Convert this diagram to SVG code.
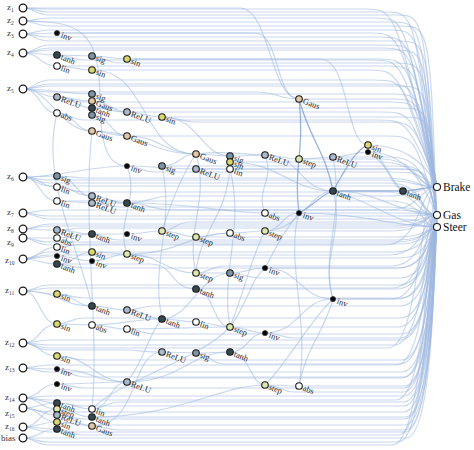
<svg xmlns="http://www.w3.org/2000/svg" width="474" height="450" viewBox="0 0 474 450">
<style>
.e path{fill:none;stroke:#9fb8e0;stroke-width:1.2;stroke-opacity:.55}
.e path.E{stroke:#6f93cc;stroke-width:1.3;stroke-opacity:.7}
circle{stroke:#1a1a1a;stroke-width:1.1}
.in circle{stroke-width:1.3;fill:#fff}
.w{fill:#fff}.tanh{fill:#37474f}.sig{fill:#7b93a3}.relu{fill:#aab9cb}.sin{fill:#d9d86e}.step{fill:#dde7ae}.gaus{fill:#e3c8a6}.inv{fill:#000}
.lb{font-family:"Liberation Serif",serif;font-size:8.5px;fill:#222}
.il{font-family:"Liberation Serif",serif;font-size:9px;fill:#333}
.sb{font-size:5.5px}
.ol{font-family:"Liberation Serif",serif;font-size:11.5px;fill:#111}
</style>
<rect width="474" height="450" fill="#fff"/>
<g id="edges" class="e">
<path d="M23 8 C35 8 35 9 50 9 H365 C395 9 395 9 437 187"/>
<path d="M23 8 C35 8 35 12 50 12 H385 C415 12 415 12 437 215"/>
<path d="M23 8 C35 8 35 15 50 15 H395 C425 15 425 15 437 227"/>
<path d="M23 8 H240 C270 8 270 99 299 99"/>
<path d="M23 21 C35 21 35 18 50 18 H375 C405 18 405 18 437 187"/>
<path d="M23 21 C35 21 35 22 50 22 H392 C422 22 422 22 437 215"/>
<path d="M23 21 C35 21 35 26 50 26 H400 C430 26 430 26 437 227"/>
<path d="M23 21 C80 21 100 30 100 100 C100 150 110 166 127 166"/>
<path d="M23 34 C40 34 40 33 57 33"/>
<path d="M23 34 C35 34 35 37 50 37 H380 C410 37 410 37 437 187"/>
<path d="M23 34 C35 34 35 41 50 41 H398 C428 41 428 41 437 227"/>
<path d="M23 34 C35 34 35 30 50 30 H390 C420 30 420 30 437 215"/>
<path d="M57 33 H370 C400 33 400 33 437 187"/>
<path d="M57 33 H255 C280 33 275 99 299 99"/>
<path d="M23 53 C40 53 40 55 57 55"/>
<path d="M23 53 C40 53 40 66 57 66"/>
<path d="M23 53 C35 53 35 48 50 48 H382 C412 48 412 48 437 187"/>
<path d="M23 53 C35 53 35 50 50 50 H396 C426 50 426 50 437 227"/>
<path d="M23 53 C35 53 35 45 50 45 H388 C418 45 418 45 437 215"/>
<path d="M57 55 C75 55 75 56 92 56"/>
<path d="M57 55 C70 55 70 60 85 60 H372 C402 60 402 60 437 187"/>
<path d="M57 66 C75 66 75 70 92 70"/>
<path d="M57 66 H388 C418 66 418 66 437 215"/>
<path d="M92 56 C110 56 110 59 127 59"/>
<path d="M92 56 C105 56 105 63 120 63 H396 C426 63 426 63 437 227"/>
<path d="M92 70 H368 C398 70 398 70 437 187"/>
<path d="M92 70 C150 70 140 154 196 154"/>
<path d="M127 59 H378 C408 59 408 59 437 187"/>
<path d="M127 59 H320 C350 59 345 145 368 145"/>
<path d="M23 89 C40 89 40 97 57 97"/>
<path d="M23 89 C40 89 40 113 57 113"/>
<path d="M23 89 C55 89 60 94 92 94"/>
<path d="M23 89 C50 89 60 131 92 131"/>
<path d="M23 89 C35 89 35 80 50 80 H374 C404 80 404 80 437 187"/>
<path d="M23 89 C35 89 35 84 50 84 H386 C416 84 416 84 437 215"/>
<path d="M23 89 C35 89 35 86 50 86 H398 C428 86 428 86 437 227"/>
<path d="M23 89 C35 89 35 92 50 92 H255 C280 92 275 99 299 99"/>
<path d="M57 97 C75 97 75 108 92 108"/>
<path d="M57 97 C70 97 70 102 85 102 H390 C420 102 420 102 437 215"/>
<path d="M57 97 C75 97 75 101 92 101"/>
<path d="M57 113 C75 113 75 131 92 131"/>
<path d="M57 113 C70 113 70 120 85 120 H376 C406 120 406 120 437 187"/>
<path d="M92 94 H392 C422 94 422 94 437 215"/>
<path d="M92 101 C110 101 110 112 127 112"/>
<path d="M92 108 C110 108 110 112 127 112"/>
<path d="M92 108 H400 C430 108 430 108 437 227"/>
<path d="M92 115 C110 115 110 136 127 136"/>
<path d="M92 131 C110 131 110 136 127 136"/>
<path d="M92 131 C140 131 150 154 196 154"/>
<path d="M92 131 C82 220 100 330 92 409"/>
<path d="M127 112 C145 112 145 117 162 117"/>
<path d="M127 112 H380 C410 112 410 112 437 187"/>
<path d="M127 136 H385 C415 136 415 136 437 215"/>
<path d="M127 136 C160 136 165 154 196 154"/>
<path d="M162 117 C180 117 180 122 195 122 H384 C414 122 414 122 437 187"/>
<path d="M162 117 H402 C432 117 432 117 437 227"/>
<path d="M162 117 C200 117 200 156 230 156"/>
<path d="M127 166 C140 166 140 172 155 172 H390 C415 172 415 172 437 187"/>
<path d="M127 166 C160 166 165 169 196 169"/>
<path d="M127 166 C140 200 115 220 127 254"/>
<path d="M162 166 C180 166 180 154 196 154"/>
<path d="M162 166 H392 C422 166 422 166 437 215"/>
<path d="M162 166 C175 230 150 260 162 319"/>
<path d="M196 154 C213 154 213 156 230 156"/>
<path d="M196 154 C230 150 240 155 265 155"/>
<path d="M196 154 C210 200 185 230 196 273"/>
<path d="M196 169 H230"/>
<path d="M196 169 H395 C425 169 425 169 437 215"/>
<path d="M230 156 C248 156 248 155 265 155"/>
<path d="M230 162 H380 C420 162 415 187 437 187"/>
<path d="M230 162 C280 162 290 191 333 191"/>
<path d="M230 169 C245 230 220 270 230 327"/>
<path d="M230 169 C225 220 200 230 196 273"/>
<path d="M230 169 H398 C428 169 428 169 437 227"/>
<path d="M265 155 C282 155 282 159 299 159"/>
<path d="M265 155 C300 155 300 191 333 191"/>
<path d="M265 155 C275 180 255 190 265 213"/>
<path class="E" d="M299 99 C310 140 325 150 333 191"/>
<path class="E" d="M299 99 C305 150 293 170 299 213"/>
<path d="M299 99 H390 C420 99 420 99 437 187"/>
<path d="M299 159 H380 C420 159 415 187 437 187"/>
<path d="M299 159 C316 159 316 157 333 157"/>
<path d="M333 157 H390 C425 157 420 187 437 187"/>
<path d="M333 157 C345 220 320 250 333 299"/>
<path d="M333 157 C350 157 350 152 368 152"/>
<path d="M368 145 C400 145 425 160 437 187"/>
<path d="M368 145 C385 160 390 180 403 191"/>
<path d="M368 152 C390 165 390 185 403 191"/>
<path d="M368 152 C410 152 425 190 437 215"/>
<path class="E" d="M333 191 C360 191 375 191 403 191"/>
<path class="E" d="M333 191 C345 170 355 150 368 145"/>
<path d="M333 191 C380 191 400 215 437 215"/>
<path d="M333 191 C370 200 400 227 437 227"/>
<path class="E" d="M403 191 C415 191 425 187 437 187"/>
<path d="M403 191 C420 195 425 215 437 215"/>
<path class="E" d="M299 213 C315 205 320 195 333 191"/>
<path d="M299 213 H400 C425 213 425 215 437 215"/>
<path d="M299 213 C360 213 400 227 437 227"/>
<path d="M265 213 H299"/>
<path d="M23 177 C40 177 40 176 57 176"/>
<path d="M23 177 C40 177 40 187 57 187"/>
<path d="M23 177 C40 177 40 201 57 201"/>
<path d="M23 177 C35 177 35 180 50 180 H380 C415 180 415 187 437 187"/>
<path d="M23 177 C35 177 35 183 50 183 H390 C425 183 420 215 437 215"/>
<path d="M23 177 C35 177 35 186 50 186 H395 C428 186 425 227 437 227"/>
<path d="M23 177 C60 177 90 166 127 166"/>
<path d="M57 176 C70 176 70 178 85 178 H385 C418 178 415 187 437 187"/>
<path d="M57 176 C75 176 75 196 92 196"/>
<path d="M57 187 C75 187 75 196 92 196"/>
<path d="M57 187 C70 187 70 192 85 192 H385 C420 192 415 215 437 215"/>
<path d="M57 201 C75 201 75 203 92 203"/>
<path d="M57 201 H390 C425 201 420 227 437 227"/>
<path d="M92 196 C110 196 110 203 127 203"/>
<path d="M92 203 H127"/>
<path d="M92 203 C105 203 105 207 120 207 H390 C425 207 420 215 437 215"/>
<path d="M127 203 C150 203 150 196 170 196 H385 C420 196 420 187 437 187"/>
<path d="M127 203 C150 203 150 210 170 210 H392 C425 210 425 215 437 215"/>
<path d="M127 203 C200 203 220 213 265 213"/>
<path d="M23 213 C35 213 35 216 50 216 H395 C425 216 425 215 437 215"/>
<path d="M23 213 C35 213 35 219 50 219 H398 C428 219 428 227 437 227"/>
<path d="M23 213 C35 213 35 210 50 210 H388 C420 210 420 187 437 187"/>
<path d="M23 229 C40 229 40 230 57 230"/>
<path d="M23 229 C35 229 35 224 50 224 H395 C425 224 425 227 437 227"/>
<path d="M23 229 C35 229 35 226 50 226 H392 C425 226 425 215 437 215"/>
<path d="M23 238 H57"/>
<path d="M23 238 C35 238 35 242 50 242 H396 C428 242 425 227 437 227"/>
<path d="M23 238 C35 238 35 245 50 245 H385 C420 245 420 187 437 187"/>
<path d="M57 230 C75 230 75 234 92 234"/>
<path d="M57 230 C70 230 70 228 85 228 H394 C425 228 425 215 437 215"/>
<path d="M57 238 C75 238 75 234 92 234"/>
<path d="M92 234 H127"/>
<path d="M92 234 C105 234 105 240 120 240 H396 C428 240 428 227 437 227"/>
<path d="M127 234 C145 234 145 231 162 231"/>
<path d="M162 231 C180 231 180 237 196 237"/>
<path d="M162 231 C175 231 175 222 190 222 H392 C425 222 425 215 437 215"/>
<path d="M162 231 C175 190 185 170 196 154"/>
<path d="M196 237 C213 237 213 233 230 233"/>
<path d="M196 237 H395 C428 237 428 227 437 227"/>
<path d="M230 233 C248 233 248 231 265 231"/>
<path d="M265 231 H390 C425 231 425 215 437 215"/>
<path d="M265 231 C282 231 282 213 299 213"/>
<path d="M265 231 C300 231 310 191 333 191"/>
<path d="M23 259 C40 259 40 247 57 247"/>
<path d="M23 259 C40 259 40 256 57 256"/>
<path d="M23 259 C40 259 40 264 57 264"/>
<path d="M23 259 C35 259 35 252 50 252 H394 C428 252 426 227 437 227"/>
<path d="M23 259 C35 259 35 255 50 255 H390 C424 255 424 215 437 215"/>
<path d="M57 247 C70 247 70 244 85 244 H398 C430 244 428 227 437 227"/>
<path d="M57 256 C75 256 75 261 92 261"/>
<path d="M57 264 C75 264 75 252 92 252"/>
<path d="M57 264 C70 264 70 268 85 268 H398 C430 268 430 227 437 227"/>
<path d="M92 252 C110 252 110 254 127 254"/>
<path d="M92 261 C110 261 110 254 127 254"/>
<path d="M127 254 C140 254 140 258 155 258 H400 C430 258 430 227 437 227"/>
<path d="M127 254 C160 254 165 273 196 273"/>
<path d="M127 254 C180 254 190 233 230 233"/>
<path d="M196 273 H230"/>
<path d="M196 273 C210 273 210 266 225 266 H392 C425 266 425 215 437 215"/>
<path d="M230 273 C248 273 248 268 265 268"/>
<path d="M230 273 C245 273 245 278 260 278 H400 C430 278 430 227 437 227"/>
<path d="M265 268 C300 268 300 299 333 299"/>
<path d="M265 268 H398 C430 268 430 227 437 227"/>
<path d="M265 268 C280 240 285 230 299 213"/>
<path d="M196 289 H396 C430 289 430 227 437 227"/>
<path d="M196 289 C213 289 213 327 230 327"/>
<path d="M57 264 H150 C175 264 170 289 196 289"/>
<path d="M23 291 C40 291 40 294 57 294"/>
<path d="M23 291 C35 291 35 285 50 285 H398 C430 285 430 227 437 227"/>
<path d="M23 291 C35 291 35 288 50 288 H392 C426 288 426 215 437 215"/>
<path d="M23 291 C60 291 60 306 92 306"/>
<path d="M23 291 C40 291 40 324 57 324"/>
<path d="M57 294 C75 294 75 306 92 306"/>
<path d="M57 294 C70 294 70 298 85 298 H400 C432 298 430 227 437 227"/>
<path d="M92 306 C110 306 110 310 127 310"/>
<path d="M127 310 C145 310 145 319 162 319"/>
<path d="M127 310 C140 310 140 306 155 306 H400 C432 306 430 227 437 227"/>
<path d="M162 319 C180 319 180 322 196 322"/>
<path d="M162 319 C190 319 200 273 230 273"/>
<path d="M196 322 C213 322 213 327 230 327"/>
<path d="M230 327 C248 327 248 333 265 333"/>
<path d="M230 327 H398 C430 327 430 227 437 227"/>
<path d="M230 327 C250 300 250 280 265 268"/>
<path d="M230 327 C245 290 250 260 265 231"/>
<path d="M265 333 C300 333 300 299 333 299"/>
<path d="M265 333 C280 333 280 338 295 338 H400 C432 338 430 227 437 227"/>
<path d="M333 299 H398 C430 299 430 227 437 227"/>
<path d="M333 299 H392 C425 299 426 215 437 215"/>
<path d="M333 299 C320 260 345 230 333 191"/>
<path d="M57 324 C75 324 75 325 92 325"/>
<path d="M57 324 C70 324 70 318 85 318 H400 C432 318 430 227 437 227"/>
<path d="M92 325 C110 325 110 329 127 329"/>
<path d="M92 325 C125 325 130 319 162 319"/>
<path d="M127 329 C140 329 140 334 155 334 H402 C432 334 432 227 437 227"/>
<path d="M127 329 C180 329 190 327 230 327"/>
<path d="M23 343 C40 343 40 324 57 324"/>
<path d="M23 343 C40 343 40 356 57 356"/>
<path d="M23 343 C35 343 35 340 50 340 H400 C432 340 432 227 437 227"/>
<path d="M23 343 C35 343 35 345 50 345 H394 C426 345 426 215 437 215"/>
<path d="M23 343 C35 343 35 348 50 348 H388 C420 348 420 187 437 187"/>
<path d="M23 343 C35 343 35 350 50 350 H120 C145 350 140 352 162 352"/>
<path d="M57 356 C70 356 70 360 85 360 H402 C432 360 432 227 437 227"/>
<path d="M57 356 C90 356 95 382 127 382"/>
<path d="M162 352 C180 352 180 353 196 353"/>
<path d="M196 353 C213 353 213 352 230 352"/>
<path d="M196 353 C210 353 210 364 225 364 H400 C432 364 432 227 437 227"/>
<path d="M230 352 C250 352 250 385 265 385"/>
<path d="M230 352 C248 352 248 333 265 333"/>
<path d="M265 385 C282 385 282 386 299 386"/>
<path d="M265 385 C280 385 280 392 295 392 H404 C432 392 432 227 437 227"/>
<path d="M265 385 C290 360 310 320 333 299"/>
<path d="M299 386 C305 350 325 330 333 299"/>
<path d="M299 386 H404 C434 386 432 227 437 227"/>
<path d="M299 386 C310 320 285 260 299 213"/>
<path d="M23 368 C40 368 40 369 57 369"/>
<path d="M23 368 C35 368 35 372 50 372 H402 C434 372 432 227 437 227"/>
<path d="M23 368 C35 368 35 365 50 365 H396 C428 365 428 215 437 215"/>
<path d="M57 369 C90 369 95 382 127 382"/>
<path d="M57 369 C70 369 70 377 85 377 H404 C434 377 432 227 437 227"/>
<path d="M57 384 C90 384 95 382 127 382"/>
<path d="M57 384 C70 384 70 388 85 388 H404 C434 388 434 227 437 227"/>
<path d="M127 382 C145 360 150 330 162 319"/>
<path d="M127 382 C140 382 140 378 155 378 H402 C432 378 432 227 437 227"/>
<path d="M127 382 C180 382 190 352 230 352"/>
<path d="M23 398 C40 398 40 384 57 384"/>
<path d="M23 398 C40 398 40 403 57 403"/>
<path d="M23 398 C40 398 40 409 57 409"/>
<path d="M23 398 C35 398 35 396 50 396 H404 C434 396 434 227 437 227"/>
<path d="M23 398 C35 398 35 400 50 400 H396 C428 400 428 215 437 215"/>
<path d="M23 408 C40 408 40 415 57 415"/>
<path d="M23 408 C40 408 40 422 57 422"/>
<path d="M23 408 C40 408 40 403 57 403"/>
<path d="M23 408 C35 408 35 412 50 412 H404 C434 412 434 227 437 227"/>
<path d="M23 427 C40 427 40 422 57 422"/>
<path d="M23 427 C40 427 40 429 57 429"/>
<path d="M23 427 C40 427 40 409 57 409"/>
<path d="M23 427 C35 427 35 432 50 432 H405 C435 432 434 227 437 227"/>
<path d="M23 438 H406 C436 438 434 227 437 227"/>
<path d="M23 438 C35 438 35 442 50 442 H398 C430 442 430 215 437 215"/>
<path d="M23 438 C35 438 35 445 50 445 H392 C428 445 428 187 437 187"/>
<path d="M23 438 C40 438 40 429 57 429"/>
<path d="M57 403 C75 403 75 409 92 409"/>
<path d="M57 403 C70 403 70 406 85 406 H404 C434 406 434 227 437 227"/>
<path d="M57 409 C75 409 75 417 92 417"/>
<path d="M57 415 C75 415 75 426 92 426"/>
<path d="M57 415 C70 415 70 419 85 419 H405 C435 419 434 227 437 227"/>
<path d="M57 422 C70 422 70 425 85 425 H405 C435 425 435 227 437 227"/>
<path d="M57 429 C70 429 70 435 85 435 H398 C430 435 430 215 437 215"/>
<path d="M92 409 C110 409 110 382 127 382"/>
<path d="M92 409 C105 409 105 402 120 402 H404 C434 402 434 227 437 227"/>
<path d="M92 409 C120 380 200 360 230 327"/>
<path d="M92 417 H405 C435 417 434 227 437 227"/>
<path d="M92 417 C180 417 220 385 265 385"/>
<path d="M92 426 C105 426 105 430 120 430 H405 C435 430 435 227 437 227"/>
<path d="M92 426 C140 426 130 352 162 352"/>
<path d="M57 113 C40 180 80 250 92 306"/>
</g>
<g id="inputs" class="in">
<g id="z1"><circle cx="23" cy="8" r="3.8"/><text class="il" x="7" y="10">z<tspan class="sb" dy="2">1</tspan></text></g>
<g id="z2"><circle cx="23" cy="21" r="3.8"/><text class="il" x="7" y="23">z<tspan class="sb" dy="2">2</tspan></text></g>
<g id="z3"><circle cx="23" cy="34" r="3.8"/><text class="il" x="7" y="36">z<tspan class="sb" dy="2">3</tspan></text></g>
<g id="z4"><circle cx="23" cy="53" r="3.8"/><text class="il" x="7" y="55">z<tspan class="sb" dy="2">4</tspan></text></g>
<g id="z5"><circle cx="23" cy="89" r="3.8"/><text class="il" x="7" y="91">z<tspan class="sb" dy="2">5</tspan></text></g>
<g id="z6"><circle cx="23" cy="177" r="3.8"/><text class="il" x="7" y="179">z<tspan class="sb" dy="2">6</tspan></text></g>
<g id="z7"><circle cx="23" cy="213" r="3.8"/><text class="il" x="7" y="215">z<tspan class="sb" dy="2">7</tspan></text></g>
<g id="z8"><circle cx="23" cy="229" r="3.8"/><text class="il" x="7" y="231">z<tspan class="sb" dy="2">8</tspan></text></g>
<g id="z9"><circle cx="23" cy="238" r="3.8"/><text class="il" x="7" y="245">z<tspan class="sb" dy="2">9</tspan></text></g>
<g id="z10"><circle cx="23" cy="259" r="3.8"/><text class="il" x="5" y="263">z<tspan class="sb" dy="2">10</tspan></text></g>
<g id="z11"><circle cx="23" cy="291" r="3.8"/><text class="il" x="5" y="293">z<tspan class="sb" dy="2">11</tspan></text></g>
<g id="z12"><circle cx="23" cy="343" r="3.8"/><text class="il" x="5" y="345">z<tspan class="sb" dy="2">12</tspan></text></g>
<g id="z13"><circle cx="23" cy="368" r="3.8"/><text class="il" x="5" y="370">z<tspan class="sb" dy="2">13</tspan></text></g>
<g id="z14"><circle cx="23" cy="398" r="3.8"/><text class="il" x="5" y="400">z<tspan class="sb" dy="2">14</tspan></text></g>
<g id="z15"><circle cx="23" cy="408" r="3.8"/><text class="il" x="5" y="416">z<tspan class="sb" dy="2">15</tspan></text></g>
<g id="z16"><circle cx="23" cy="427" r="3.8"/><text class="il" x="5" y="429">z<tspan class="sb" dy="2">16</tspan></text></g>
<g id="bias"><circle cx="23" cy="438" r="3.8"/><text class="il" x="1" y="441">bias</text></g>
</g>
<g id="hidden">
<g id="a1"><circle class="inv" cx="57" cy="33" r="2.3"/><text class="lb" x="61.5" y="36" transform="rotate(20 57 33)">inv</text></g>
<g id="a2"><circle class="tanh" cx="57" cy="55" r="3.3"/><text class="lb" x="61.5" y="58" transform="rotate(20 57 55)">tanh</text></g>
<g id="a3"><circle class="w" cx="57" cy="66" r="3.3"/><text class="lb" x="61.5" y="69" transform="rotate(20 57 66)">lin</text></g>
<g id="a4"><circle class="relu" cx="57" cy="97" r="3.3"/><text class="lb" x="61.5" y="100" transform="rotate(20 57 97)">ReLU</text></g>
<g id="a5"><circle class="w" cx="57" cy="113" r="3.3"/><text class="lb" x="61.5" y="116" transform="rotate(20 57 113)">abs</text></g>
<g id="a6"><circle class="sig" cx="57" cy="176" r="3.3"/><text class="lb" x="61.5" y="179" transform="rotate(20 57 176)">sig</text></g>
<g id="a7"><circle class="w" cx="57" cy="187" r="3.3"/><text class="lb" x="61.5" y="190" transform="rotate(20 57 187)">lin</text></g>
<g id="a8"><circle class="w" cx="57" cy="201" r="3.3"/><text class="lb" x="61.5" y="204" transform="rotate(20 57 201)">lin</text></g>
<g id="a9"><circle class="relu" cx="57" cy="230" r="3.3"/><text class="lb" x="61.5" y="233" transform="rotate(20 57 230)">ReLU</text></g>
<g id="a10"><circle class="w" cx="57" cy="238" r="3.3"/><text class="lb" x="61.5" y="241" transform="rotate(20 57 238)">abs</text></g>
<g id="a11"><circle class="w" cx="57" cy="247" r="3.3"/><text class="lb" x="61.5" y="250" transform="rotate(20 57 247)">lin</text></g>
<g id="a12"><circle class="inv" cx="57" cy="256" r="2.3"/><text class="lb" x="61.5" y="259" transform="rotate(20 57 256)">inv</text></g>
<g id="a13"><circle class="tanh" cx="57" cy="264" r="3.3"/><text class="lb" x="61.5" y="267" transform="rotate(20 57 264)">tanh</text></g>
<g id="a14"><circle class="sin" cx="57" cy="294" r="3.3"/><text class="lb" x="61.5" y="297" transform="rotate(20 57 294)">sin</text></g>
<g id="a15"><circle class="sin" cx="57" cy="324" r="3.3"/><text class="lb" x="61.5" y="327" transform="rotate(20 57 324)">sin</text></g>
<g id="a16"><circle class="sin" cx="57" cy="356" r="3.3"/><text class="lb" x="61.5" y="359" transform="rotate(20 57 356)">sin</text></g>
<g id="a17"><circle class="inv" cx="57" cy="369" r="2.3"/><text class="lb" x="61.5" y="372" transform="rotate(20 57 369)">inv</text></g>
<g id="a18"><circle class="inv" cx="57" cy="384" r="2.3"/><text class="lb" x="61.5" y="387" transform="rotate(20 57 384)">inv</text></g>
<g id="a19"><circle class="tanh" cx="57" cy="403" r="3.3"/><text class="lb" x="61.5" y="406" transform="rotate(20 57 403)">tanh</text></g>
<g id="a20"><circle class="step" cx="57" cy="409" r="3.3"/><text class="lb" x="61.5" y="412" transform="rotate(20 57 409)">step</text></g>
<g id="a21"><circle class="relu" cx="57" cy="415" r="3.3"/><text class="lb" x="61.5" y="418" transform="rotate(20 57 415)">ReLU</text></g>
<g id="a22"><circle class="sin" cx="57" cy="422" r="3.3"/><text class="lb" x="61.5" y="425" transform="rotate(20 57 422)">sin</text></g>
<g id="a23"><circle class="tanh" cx="57" cy="429" r="3.3"/><text class="lb" x="61.5" y="432" transform="rotate(20 57 429)">tanh</text></g>
<g id="b1"><circle class="sig" cx="92" cy="56" r="3.3"/><text class="lb" x="96.5" y="59" transform="rotate(20 92 56)">sig</text></g>
<g id="b2"><circle class="sin" cx="92" cy="70" r="3.3"/><text class="lb" x="96.5" y="73" transform="rotate(20 92 70)">sin</text></g>
<g id="b3"><circle class="sig" cx="92" cy="94" r="3.3"/><text class="lb" x="96.5" y="97" transform="rotate(20 92 94)">sig</text></g>
<g id="b4"><circle class="gaus" cx="92" cy="101" r="3.3"/><text class="lb" x="96.5" y="104" transform="rotate(20 92 101)">Gaus</text></g>
<g id="b5"><circle class="tanh" cx="92" cy="108" r="3.3"/><text class="lb" x="96.5" y="111" transform="rotate(20 92 108)">tanh</text></g>
<g id="b6"><circle class="sig" cx="92" cy="115" r="3.3"/><text class="lb" x="96.5" y="118" transform="rotate(20 92 115)">sig</text></g>
<g id="b7"><circle class="gaus" cx="92" cy="131" r="3.3"/><text class="lb" x="96.5" y="134" transform="rotate(20 92 131)">Gaus</text></g>
<g id="b8"><circle class="relu" cx="92" cy="196" r="3.3"/><text class="lb" x="96.5" y="199" transform="rotate(20 92 196)">ReLU</text></g>
<g id="b9"><circle class="relu" cx="92" cy="203" r="3.3"/><text class="lb" x="96.5" y="206" transform="rotate(20 92 203)">ReLU</text></g>
<g id="b10"><circle class="tanh" cx="92" cy="234" r="3.3"/><text class="lb" x="96.5" y="237" transform="rotate(20 92 234)">tanh</text></g>
<g id="b11"><circle class="sin" cx="92" cy="252" r="3.3"/><text class="lb" x="96.5" y="255" transform="rotate(20 92 252)">sin</text></g>
<g id="b12"><circle class="inv" cx="92" cy="261" r="2.3"/><text class="lb" x="96.5" y="264" transform="rotate(20 92 261)">inv</text></g>
<g id="b13"><circle class="tanh" cx="92" cy="306" r="3.3"/><text class="lb" x="96.5" y="309" transform="rotate(20 92 306)">tanh</text></g>
<g id="b14"><circle class="w" cx="92" cy="325" r="3.3"/><text class="lb" x="96.5" y="328" transform="rotate(20 92 325)">abs</text></g>
<g id="b15"><circle class="w" cx="92" cy="409" r="3.3"/><text class="lb" x="96.5" y="412" transform="rotate(20 92 409)">lin</text></g>
<g id="b16"><circle class="tanh" cx="92" cy="417" r="3.3"/><text class="lb" x="96.5" y="420" transform="rotate(20 92 417)">tanh</text></g>
<g id="b17"><circle class="gaus" cx="92" cy="426" r="3.3"/><text class="lb" x="96.5" y="429" transform="rotate(20 92 426)">Gaus</text></g>
<g id="c1"><circle class="sin" cx="127" cy="59" r="3.3"/><text class="lb" x="131.5" y="62" transform="rotate(20 127 59)">sin</text></g>
<g id="c2"><circle class="relu" cx="127" cy="112" r="3.3"/><text class="lb" x="131.5" y="115" transform="rotate(20 127 112)">ReLU</text></g>
<g id="c3"><circle class="gaus" cx="127" cy="136" r="3.3"/><text class="lb" x="131.5" y="139" transform="rotate(20 127 136)">Gaus</text></g>
<g id="c4"><circle class="inv" cx="127" cy="166" r="2.3"/><text class="lb" x="131.5" y="169" transform="rotate(20 127 166)">inv</text></g>
<g id="c5"><circle class="tanh" cx="127" cy="203" r="3.3"/><text class="lb" x="131.5" y="206" transform="rotate(20 127 203)">tanh</text></g>
<g id="c6"><circle class="inv" cx="127" cy="234" r="2.3"/><text class="lb" x="131.5" y="237" transform="rotate(20 127 234)">inv</text></g>
<g id="c7"><circle class="step" cx="127" cy="254" r="3.3"/><text class="lb" x="131.5" y="257" transform="rotate(20 127 254)">step</text></g>
<g id="c8"><circle class="relu" cx="127" cy="310" r="3.3"/><text class="lb" x="131.5" y="313" transform="rotate(20 127 310)">ReLU</text></g>
<g id="c9"><circle class="w" cx="127" cy="329" r="3.3"/><text class="lb" x="131.5" y="332" transform="rotate(20 127 329)">lin</text></g>
<g id="c10"><circle class="relu" cx="127" cy="382" r="3.3"/><text class="lb" x="131.5" y="385" transform="rotate(20 127 382)">ReLU</text></g>
<g id="d1"><circle class="sin" cx="162" cy="117" r="3.3"/><text class="lb" x="166.5" y="120" transform="rotate(20 162 117)">sin</text></g>
<g id="d2"><circle class="sig" cx="162" cy="166" r="3.3"/><text class="lb" x="166.5" y="169" transform="rotate(20 162 166)">sig</text></g>
<g id="d3"><circle class="step" cx="162" cy="231" r="3.3"/><text class="lb" x="166.5" y="234" transform="rotate(20 162 231)">step</text></g>
<g id="d4"><circle class="tanh" cx="162" cy="319" r="3.3"/><text class="lb" x="166.5" y="322" transform="rotate(20 162 319)">tanh</text></g>
<g id="d5"><circle class="relu" cx="162" cy="352" r="3.3"/><text class="lb" x="166.5" y="355" transform="rotate(20 162 352)">ReLU</text></g>
<g id="e1"><circle class="gaus" cx="196" cy="154" r="3.3"/><text class="lb" x="200.5" y="157" transform="rotate(20 196 154)">Gaus</text></g>
<g id="e2"><circle class="relu" cx="196" cy="169" r="3.3"/><text class="lb" x="200.5" y="172" transform="rotate(20 196 169)">ReLU</text></g>
<g id="e3"><circle class="step" cx="196" cy="237" r="3.3"/><text class="lb" x="200.5" y="240" transform="rotate(20 196 237)">step</text></g>
<g id="e4"><circle class="step" cx="196" cy="273" r="3.3"/><text class="lb" x="200.5" y="276" transform="rotate(20 196 273)">step</text></g>
<g id="e5"><circle class="tanh" cx="196" cy="289" r="3.3"/><text class="lb" x="200.5" y="292" transform="rotate(20 196 289)">tanh</text></g>
<g id="e6"><circle class="w" cx="196" cy="322" r="3.3"/><text class="lb" x="200.5" y="325" transform="rotate(20 196 322)">lin</text></g>
<g id="e7"><circle class="sig" cx="196" cy="353" r="3.3"/><text class="lb" x="200.5" y="356" transform="rotate(20 196 353)">sig</text></g>
<g id="f1"><circle class="sig" cx="230" cy="156" r="3.3"/><text class="lb" x="234.5" y="159" transform="rotate(20 230 156)">sig</text></g>
<g id="f2"><circle class="sin" cx="230" cy="162" r="3.3"/><text class="lb" x="234.5" y="165" transform="rotate(20 230 162)">sin</text></g>
<g id="f3"><circle class="w" cx="230" cy="169" r="3.3"/><text class="lb" x="234.5" y="172" transform="rotate(20 230 169)">lin</text></g>
<g id="f4"><circle class="w" cx="230" cy="233" r="3.3"/><text class="lb" x="234.5" y="236" transform="rotate(20 230 233)">abs</text></g>
<g id="f5"><circle class="sig" cx="230" cy="273" r="3.3"/><text class="lb" x="234.5" y="276" transform="rotate(20 230 273)">sig</text></g>
<g id="f6"><circle class="step" cx="230" cy="327" r="3.3"/><text class="lb" x="234.5" y="330" transform="rotate(20 230 327)">step</text></g>
<g id="f7"><circle class="tanh" cx="230" cy="352" r="3.3"/><text class="lb" x="234.5" y="355" transform="rotate(20 230 352)">tanh</text></g>
<g id="g1"><circle class="relu" cx="265" cy="155" r="3.3"/><text class="lb" x="269.5" y="158" transform="rotate(20 265 155)">ReLU</text></g>
<g id="g2"><circle class="w" cx="265" cy="213" r="3.3"/><text class="lb" x="269.5" y="216" transform="rotate(20 265 213)">abs</text></g>
<g id="g3"><circle class="step" cx="265" cy="231" r="3.3"/><text class="lb" x="269.5" y="234" transform="rotate(20 265 231)">step</text></g>
<g id="g4"><circle class="inv" cx="265" cy="268" r="2.3"/><text class="lb" x="269.5" y="271" transform="rotate(20 265 268)">inv</text></g>
<g id="g5"><circle class="inv" cx="265" cy="333" r="2.3"/><text class="lb" x="269.5" y="336" transform="rotate(20 265 333)">inv</text></g>
<g id="g6"><circle class="step" cx="265" cy="385" r="3.3"/><text class="lb" x="269.5" y="388" transform="rotate(20 265 385)">step</text></g>
<g id="h1"><circle class="gaus" cx="299" cy="99" r="3.3"/><text class="lb" x="303.5" y="102" transform="rotate(20 299 99)">Gaus</text></g>
<g id="h2"><circle class="step" cx="299" cy="159" r="3.3"/><text class="lb" x="303.5" y="162" transform="rotate(20 299 159)">step</text></g>
<g id="h3"><circle class="inv" cx="299" cy="213" r="2.3"/><text class="lb" x="303.5" y="216" transform="rotate(20 299 213)">inv</text></g>
<g id="h4"><circle class="w" cx="299" cy="386" r="3.3"/><text class="lb" x="303.5" y="389" transform="rotate(20 299 386)">abs</text></g>
<g id="i1"><circle class="relu" cx="333" cy="157" r="3.3"/><text class="lb" x="337.5" y="160" transform="rotate(20 333 157)">ReLU</text></g>
<g id="i2"><circle class="tanh" cx="333" cy="191" r="3.3"/><text class="lb" x="337.5" y="194" transform="rotate(20 333 191)">tanh</text></g>
<g id="i3"><circle class="inv" cx="333" cy="299" r="2.3"/><text class="lb" x="337.5" y="302" transform="rotate(20 333 299)">inv</text></g>
<g id="j1"><circle class="sin" cx="368" cy="145" r="3.3"/><text class="lb" x="372.5" y="148" transform="rotate(20 368 145)">sin</text></g>
<g id="j2"><circle class="inv" cx="368" cy="152" r="2.3"/><text class="lb" x="372.5" y="155" transform="rotate(20 368 152)">inv</text></g>
<g id="k1"><circle class="tanh" cx="403" cy="191" r="3.3"/><text class="lb" x="407.5" y="194" transform="rotate(20 403 191)">tanh</text></g>
</g>
<g id="outputs">
<g id="brake"><circle class="w" cx="437" cy="187" r="3.5"/><text class="ol" x="443" y="191">Brake</text></g>
<g id="gas"><circle class="w" cx="437" cy="215" r="3.5"/><text class="ol" x="443" y="219">Gas</text></g>
<g id="steer"><circle class="w" cx="437" cy="227" r="3.5"/><text class="ol" x="443" y="231">Steer</text></g>
</g>
</svg>
